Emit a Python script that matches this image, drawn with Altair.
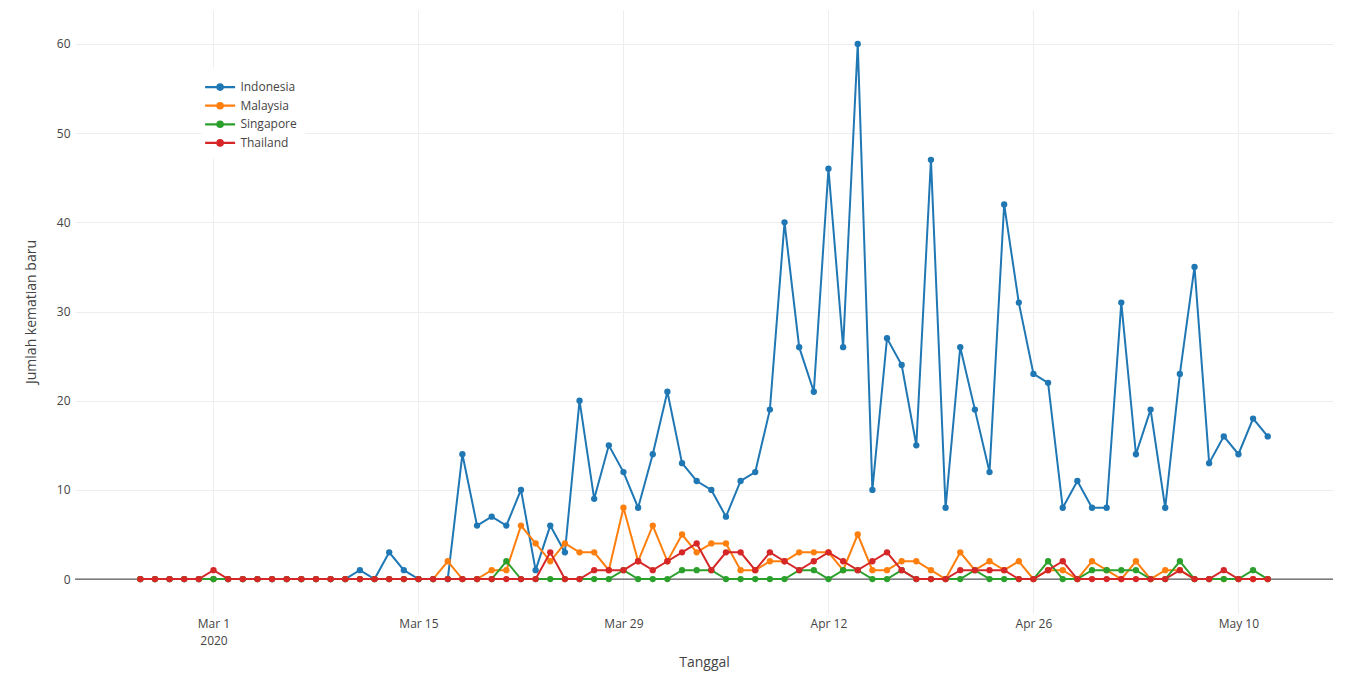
import altair as alt
import pandas as pd

start_date = "2020-02-25"
n_days = 78

countries = ["Indonesia", "Malaysia", "Singapore", "Thailand"]
colors = ["#1f77b4", "#ff7f0e", "#2ca02c", "#d62728"]

indonesia = [0]*15 + [1, 0, 3, 1, 0, 0, 0,
             14, 6, 7, 6, 10, 1, 6, 3, 20, 9, 15, 12, 8, 14, 21, 13, 11, 10, 7, 11, 12, 19,
             40, 26, 21, 46, 26, 60, 10, 27, 24, 15, 47, 8, 26, 19, 12, 42, 31, 23, 22, 8,
             11, 8, 8, 31, 14, 19, 8, 23, 35, 13, 16, 14, 18, 16]
malaysia = [0]*21 + [2, 0, 0, 1, 1, 6, 4, 2, 4, 3, 3, 1, 8, 2, 6, 2, 5, 3, 4, 4, 1, 1, 2,
            2, 3, 3, 3, 1, 5, 1, 1, 2, 2, 1, 0, 3, 1, 2, 1, 2, 0, 1, 1, 0, 2, 1, 0, 2, 0,
            1, 1, 0, 0, 0, 0, 0, 0]
singapore = [0]*25 + [2, 0, 0, 0, 0, 0, 0, 0, 1, 0, 0, 0, 1, 1, 1, 0, 0, 0, 0, 0,
             1, 1, 0, 1, 1, 0, 0, 1, 0, 0, 0, 0, 1, 0, 0, 0, 0, 2, 0, 0, 1, 1, 1, 1, 0,
             0, 2, 0, 0, 0, 0, 1, 0]
thailand = [0, 0, 0, 0, 0, 1] + [0]*22 + [3, 0, 0, 1, 1, 1, 2, 1, 2, 3, 4, 1, 3, 3, 1, 3,
            2, 1, 2, 3, 2, 1, 2, 3, 1, 0, 0, 0, 1, 1, 1, 1, 0, 0, 1, 2, 0, 0, 0, 0, 0,
            0, 0, 1, 0, 0, 1, 0, 0, 0]

series = [indonesia, malaysia, singapore, thailand]
dates = pd.date_range(start_date, periods=n_days).strftime("%Y-%m-%dT00:00:00")

rows = []
for c, vals in zip(countries, series):
    assert len(vals) == n_days, (c, len(vals))
    for d, v in zip(dates, vals):
        rows.append({"Tanggal": d, "negara": c, "nilai": v})
df = pd.DataFrame(rows)

tick_dates = [alt.DateTime(year=2020, month=3, date=1),
              alt.DateTime(year=2020, month=3, date=15),
              alt.DateTime(year=2020, month=3, date=29),
              alt.DateTime(year=2020, month=4, date=12),
              alt.DateTime(year=2020, month=4, date=26),
              alt.DateTime(year=2020, month=5, date=10)]
y_ticks = [0, 10, 20, 30, 40, 50, 60]

x_enc = alt.X(
    "Tanggal:T",
    title="Tanggal",
    scale=alt.Scale(domain=[alt.DateTime(year=2020, month=2, date=20, hours=13),
                            alt.DateTime(year=2020, month=5, date=16, hours=11)]),
    axis=alt.Axis(
        values=tick_dates,
        labelExpr="(month(datum.value) == 2 && date(datum.value) == 1) ? "
                  "[timeFormat(datum.value, '%b %-d'), timeFormat(datum.value, '%Y')] : "
                  "timeFormat(datum.value, '%b %-d')",
        labelPadding=5,
        labelLineHeight=17,
        titlePadding=9,
        gridColor="#eeeeee",
    ),
)
y_enc = alt.Y(
    "nilai:Q",
    title="Jumlah kematian baru",
    scale=alt.Scale(domain=[-3.8, 63.8], nice=False, zero=False),
    axis=alt.Axis(values=y_ticks, labelPadding=5, titlePadding=18, gridColor="#eeeeee"),
)
color_enc = alt.Color(
    "negara:N",
    scale=alt.Scale(domain=countries, range=colors),
    legend=alt.Legend(
        title=None,
        orient="none",
        legendX=126.6,
        legendY=58.6,
        fillColor="white",
        padding=8,
        symbolType="M-1.5,-0.01L1.5,-0.01L1.5,0.01L-1.5,0.01Z M-0.3,0A0.3,0.3 0 1,0 0.3,0A0.3,0.3 0 1,0 -0.3,0Z",
        symbolSize=348,
        symbolStrokeWidth=2,
        rowPadding=0.6,
        labelOffset=9.8,
        labelFont="Open Sans",
        labelFontSize=12,
        labelColor="#444444",
    ),
)

base = alt.Chart(df).encode(x=x_enc, y=y_enc, color=color_enc)

zero = alt.Chart(pd.DataFrame({"nol": [0]})).mark_rule(color="#333333", strokeWidth=1).encode(
    y=alt.Y("nol:Q", scale=alt.Scale(domain=[-3.8, 63.8], nice=False, zero=False))
)

layers = [zero]
for c in countries:
    sub = base.transform_filter(alt.datum.negara == c)
    layers.append(sub.mark_line(strokeWidth=2))
    layers.append(sub.mark_circle(size=40, opacity=1))

chart = alt.layer(*layers).properties(
    width=1258,
    height=603,
    autosize=alt.AutoSizeParams(type="none"),
    padding={"left": 75, "top": 10, "right": 25, "bottom": 71},
).configure_axis(
    ticks=False,
    tickSize=0,
    domain=False,
    labelFont="Open Sans",
    labelFontSize=12,
    labelColor="#444444",
    titleFont="Open Sans",
    titleFontSize=14,
    titleColor="#444444",
    titleFontWeight="normal",
).configure_view(stroke=None)

chart.save("out.html", embed_options={"renderer": "svg", "actions": False})
